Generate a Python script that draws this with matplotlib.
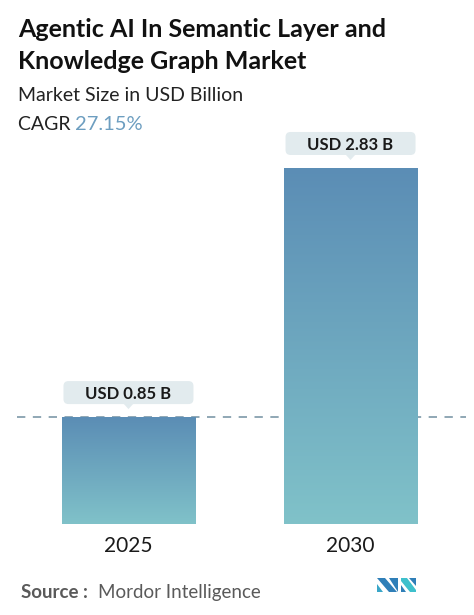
import matplotlib
matplotlib.use("Agg")
import matplotlib.pyplot as plt
import numpy as np
from matplotlib.patches import FancyBboxPatch, Polygon
from matplotlib.colors import LinearSegmentedColormap
from matplotlib.transforms import IdentityTransform

years = ["2025", "2030"]
values = [0.85, 2.83]
labels = ["USD 0.85 B", "USD 2.83 B"]
title_lines = ["Agentic AI In Semantic Layer and", "Knowledge Graph Market"]
subtitle = "Market Size in USD Billion"
cagr = "27.15%"

W, H = 474, 615
fig = plt.figure(figsize=(W / 100, H / 100), dpi=100)
fig.patch.set_facecolor("white")

def fx(px):
    return px / W

def fy(py):
    return 1 - py / H

# axes: x 17..466 px, y from 146.6 .. 524 px
ax = fig.add_axes([fx(17), fy(524), fx(466) - fx(17), (524 - 146.6) / H])
ax.set_xlim(-0.502, 1.52)
ax.set_ylim(0, 3.0)
ax.axis("off")

cmap = LinearSegmentedColormap.from_list("g", ["#80c2c9", "#5b8db5"])
grad = np.linspace(0, 1, 256).reshape(-1, 1)
bw = 0.6
xs = np.arange(len(values))
bars = ax.bar(xs, values, width=bw, color="none", edgecolor="none", zorder=2)
for b, v in zip(bars, values):
    x0 = b.get_x()
    im = ax.imshow(grad, extent=[x0, x0 + bw, 0, v], origin="lower", cmap=cmap,
                   aspect="auto", zorder=2)
    im.set_clip_path(b)

ax.axhline(values[0], color="#7d98a8", lw=1.2, dashes=(5, 4.5), zorder=1)

# value labels
fig.canvas.draw()
for x, v, lab in zip(xs, values, labels):
    cx, ty = ax.transData.transform((x, v))
    bw_px, bh_px = 130, 23
    bottom = ty + 13
    box = FancyBboxPatch((cx - bw_px / 2, bottom), bw_px, bh_px,
                         boxstyle="round,pad=0,rounding_size=5",
                         transform=IdentityTransform(), facecolor="#e2ebee",
                         edgecolor="none", zorder=3)
    fig.patches.append(box)
    tri = Polygon([[cx - 5, bottom + 0.5], [cx + 5, bottom + 0.5], [cx, bottom - 5]],
                  closed=True, transform=IdentityTransform(), facecolor="#e2ebee",
                  edgecolor="none", zorder=3)
    fig.patches.append(tri)
    fig.text(cx / W, (bottom + bh_px / 2) / H, lab, ha="center", va="center_baseline",
             fontsize=12, fontweight="bold", family="Lato", color="#1a1a1a", zorder=4)
    fig.text(cx / W, fy(552), years[x], ha="center", va="baseline",
             fontsize=15, family="Lato", color="#1a1a1a")

# titles
fig.text(fx(18), fy(37), title_lines[0], fontsize=18, fontweight="bold",
         family="Lato", color="#111111", va="baseline")
fig.text(fx(18), fy(69), title_lines[1], fontsize=18, fontweight="bold",
         family="Lato", color="#111111", va="baseline")
fig.text(fx(18), fy(101), subtitle, fontsize=14, family="Lato",
         color="#222222", va="baseline")
t = fig.text(fx(18), fy(130), "CAGR ", fontsize=14, family="Lato",
             color="#222222", va="baseline")
fig.canvas.draw()
bb = t.get_window_extent()
fig.text(bb.x1 / W, fy(130), cagr, fontsize=14.5, family="Lato",
         color="#6d9ec0", va="baseline")

# source
s = fig.text(fx(21), fy(598), "Source :", fontsize=13.5, fontweight="bold",
             family="Lato", color="#5a5a5a", va="baseline")
fig.canvas.draw()
bb = s.get_window_extent()
fig.text((bb.x1 + 10) / W, fy(598), "Mordor Intelligence", fontsize=13.5,
         family="Lato", color="#5a5a5a", va="baseline")

# logo
def P(pts, c):
    fig.patches.append(Polygon([[x, H - y] for x, y in pts], closed=True,
                               transform=IdentityTransform(), facecolor=c,
                               edgecolor="none"))

P([(377, 578), (385, 578), (397, 592), (389, 592)], "#2f7fb8")
P([(377, 584), (383, 592), (377, 592)], "#3aa6c8")
P([(389, 578), (398, 578), (398, 592)], "#2f7fb8")
P([(401, 578), (407, 578), (416, 590), (416, 592), (410, 592), (401, 581)], "#3ec0cc")
P([(409, 578), (416, 578), (416, 586)], "#2f7fb8")
P([(401, 585), (406, 592), (401, 592)], "#2f7fb8")

fig.savefig("out.png", dpi=100, facecolor="white")
